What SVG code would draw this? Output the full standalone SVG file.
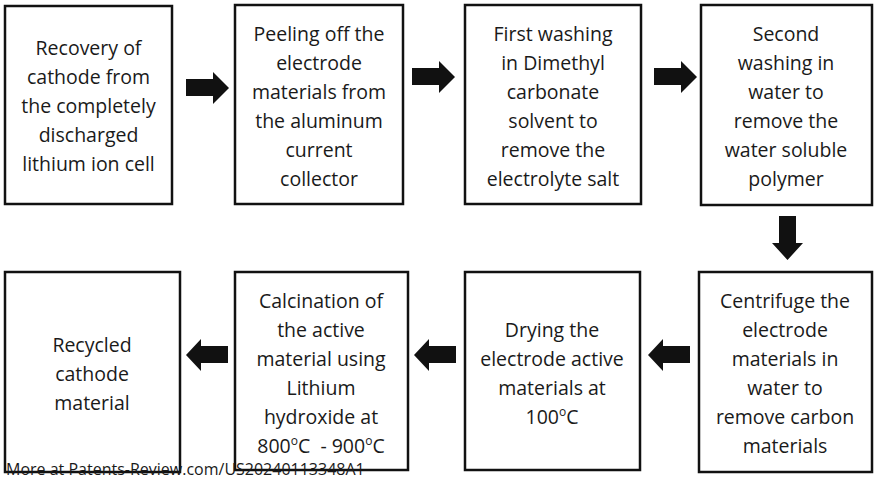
<svg xmlns="http://www.w3.org/2000/svg" width="880" height="487" viewBox="0 0 880 487">
<style>
.b{fill:#fff;stroke:#111;stroke-width:2.5}
text{font-family:"Open Sans","Liberation Sans",sans-serif;font-size:19.5px;fill:#1a1a1a;text-anchor:middle}
.a{fill:#111}
.f{font-size:16px;text-anchor:start}
</style>
<rect width="880" height="487" fill="#fff"/>
<g id="n1"><rect class="b" x="5" y="6" width="167" height="198"/><text x="88.5"><tspan x="88.5" y="55">Recovery of</tspan><tspan x="88.5" y="84">cathode from</tspan><tspan x="88.5" y="113">the completely</tspan><tspan x="88.5" y="142">discharged</tspan><tspan x="88.5" y="171">lithium ion cell</tspan></text></g>
<g id="n2"><rect class="b" x="235" y="5" width="168" height="199"/><text><tspan x="319" y="41">Peeling off the</tspan><tspan x="319" y="70">electrode</tspan><tspan x="319" y="99">materials from</tspan><tspan x="319" y="128">the aluminum</tspan><tspan x="319" y="157">current</tspan><tspan x="319" y="186">collector</tspan></text></g>
<g id="n3"><rect class="b" x="465" y="5" width="176" height="199"/><text><tspan x="553" y="41">First washing</tspan><tspan x="553" y="70">in Dimethyl</tspan><tspan x="553" y="99">carbonate</tspan><tspan x="553" y="128">solvent to</tspan><tspan x="553" y="157">remove the</tspan><tspan x="553" y="186">electrolyte salt</tspan></text></g>
<g id="n4"><rect class="b" x="701" y="5" width="171" height="200"/><text><tspan x="786" y="41">Second</tspan><tspan x="786" y="70">washing in</tspan><tspan x="786" y="99">water to</tspan><tspan x="786" y="128">remove the</tspan><tspan x="786" y="157">water soluble</tspan><tspan x="786" y="186">polymer</tspan></text></g>
<g id="n5"><rect class="b" x="699" y="272" width="173" height="200"/><text><tspan x="785" y="308">Centrifuge the</tspan><tspan x="785" y="337">electrode</tspan><tspan x="785" y="366">materials in</tspan><tspan x="785" y="395">water to</tspan><tspan x="785" y="424">remove carbon</tspan><tspan x="785" y="453">materials</tspan></text></g>
<g id="n6"><rect class="b" x="465" y="272" width="175" height="198"/><text><tspan x="552" y="337">Drying the</tspan><tspan x="552" y="366">electrode active</tspan><tspan x="552" y="395">materials at</tspan><tspan x="552" y="424">100<tspan font-size="12" dy="-8">o</tspan><tspan dy="8">C</tspan></tspan></text></g>
<g id="n7"><rect class="b" x="235" y="272" width="173" height="198"/><text><tspan x="321" y="308">Calcination of</tspan><tspan x="321" y="337">the active</tspan><tspan x="321" y="366">material using</tspan><tspan x="321" y="395">Lithium</tspan><tspan x="321" y="424">hydroxide at</tspan><tspan x="321" y="453">800<tspan font-size="12" dy="-8">o</tspan><tspan dy="8">C &#160;- 900</tspan><tspan font-size="12" dy="-8">o</tspan><tspan dy="8">C</tspan></tspan></text></g>
<g id="n8"><rect class="b" x="5" y="272" width="175" height="200"/><text><tspan x="92" y="352">Recycled</tspan><tspan x="92" y="381">cathode</tspan><tspan x="92" y="410">material</tspan></text></g>
<g id="connectors">
<polygon class="a" points="186,79 213,79 213,72 229,88 213,104 213,96 186,96"/>
<polygon class="a" points="412,68 439,68 439,61 455,77 439,93 439,85 412,85"/>
<polygon class="a" points="654,68 681,68 681,61 697,77 681,93 681,85 654,85"/>
<polygon class="a" points="779,216 796,216 796,243 803,243 787.5,260 772,243 779,243"/>
<polygon class="a" points="690,346 663,346 663,339 648,355 663,371 663,363 690,363"/>
<polygon class="a" points="456,346 429,346 429,339 414,355 429,371 429,363 456,363"/>
<polygon class="a" points="228,346 201,346 201,339 186,355 201,371 201,363 228,363"/>
</g>
<text class="f" x="6" y="475">More at Patents-Review.com/US20240113348A1</text>
</svg>
